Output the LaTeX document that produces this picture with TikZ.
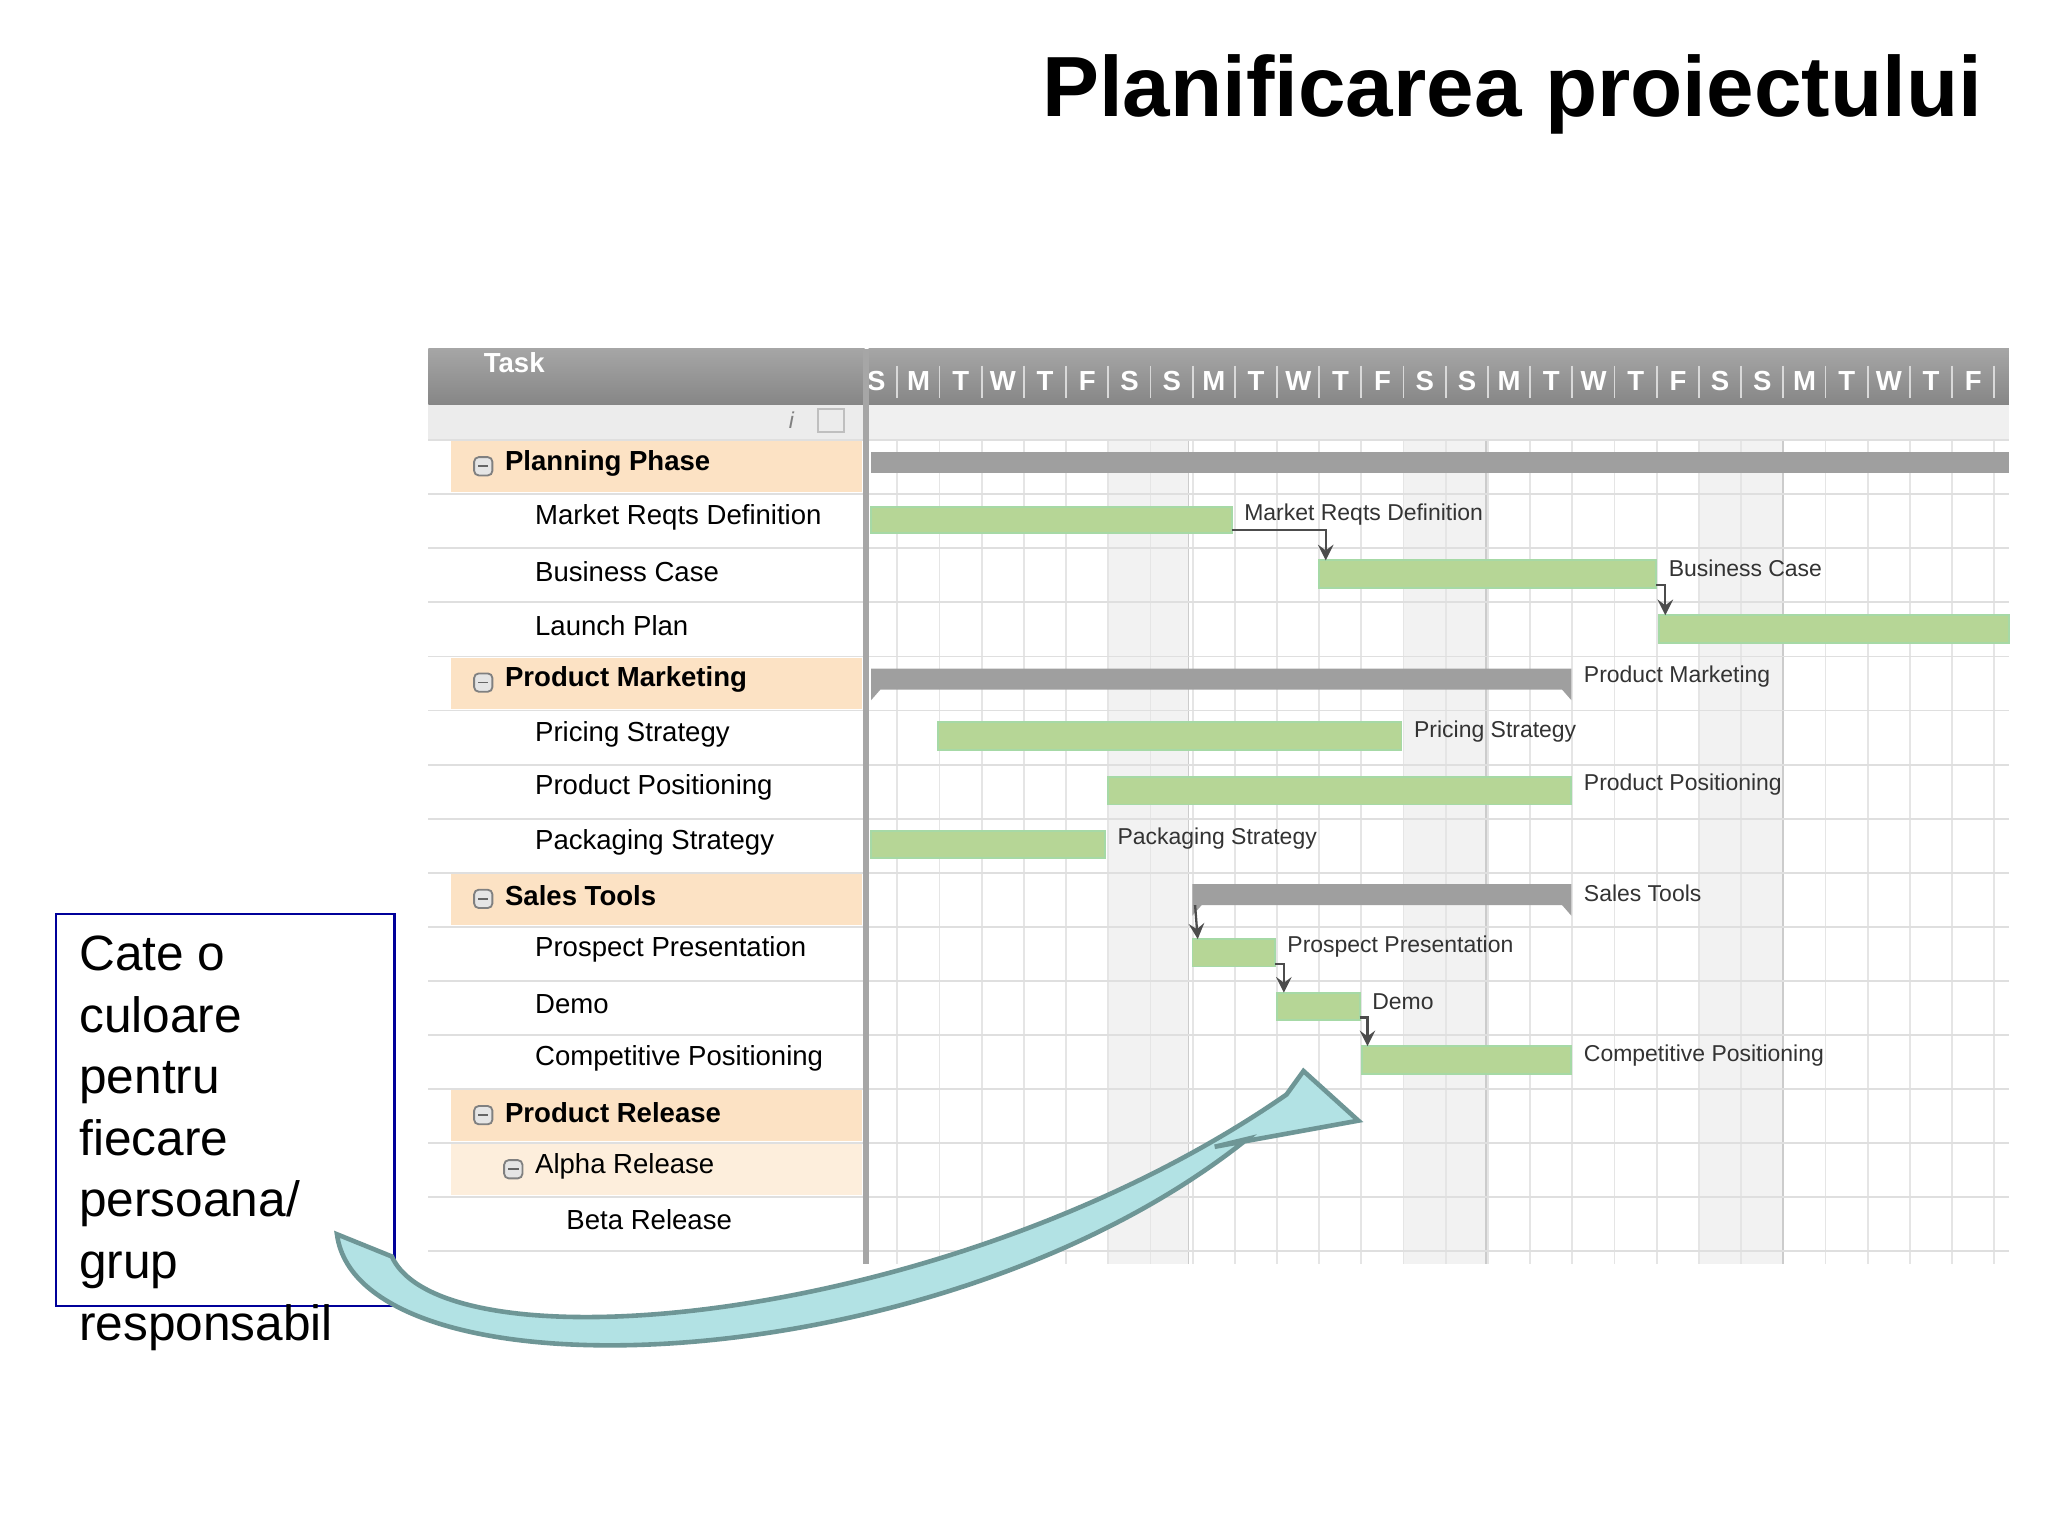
\documentclass[tikz,border=0pt]{standalone}
\usepackage{fontspec}
\setmainfont{Liberation Sans}
\begin{document}
\begin{tikzpicture}[x=0.01cm,y=-0.01cm,
  lbl/.style={anchor=west,font=\fontsize{6}{7}\selectfont,inner sep=0},
  blbl/.style={lbl,font=\fontsize{6}{7}\selectfont\bfseries},
  blab/.style={anchor=west,font=\fontsize{5}{6}\selectfont,inner sep=0,text=black!80},
  gbar/.style={draw=green!40!gray!50},
  conn/.style={draw=black!70,line width=0.5pt,-stealth}]
\definecolor{grn}{RGB}{182,214,150}
\definecolor{org}{RGB}{252,226,196}
\definecolor{arrowfill}{RGB}{178,226,228}
\definecolor{arrowedge}{RGB}{110,150,150}
\useasboundingbox (0,0) rectangle (1568,1176);
\fill[white] (0,0) rectangle (1568,1176);
\node[anchor=east,font=\fontsize{18.6}{22}\selectfont\bfseries] (title) at (1530,72) {Planificarea proiectului};
% left panel
\shade[top color=gray!70,bottom color=gray!95] (328,267) rectangle (662,310);
\node[anchor=west,text=white,font=\fontsize{6}{7}\selectfont\bfseries] (taskh) at (358,278) {Task};
\fill[gray!15] (328,310) rectangle (662,337);
\draw[gray!50] (626,313) rectangle (646,331);
\node[font=\fontsize{5}{6}\selectfont\itshape,text=gray] (ii) at (606,322) {i};
% right header
\shade[top color=gray!70,bottom color=gray!95] (665,267) rectangle (1538,310);
\fill[gray!12] (665,310) rectangle (1538,337);
\foreach \d [count=\i from 0] in {S,M,T,W,T,F,S,S,M,T,W,T,F,S,S,M,T,W,T,F,S,S,M,T,W,T,F}{
  \node[text=white,font=\fontsize{6}{7}\selectfont\bfseries] (d\i) at (671+32.3*\i,292) {\d};
  \draw[white!70!gray] (687+32.3*\i,280) -- (687+32.3*\i,305);
}
% weekend shading
\fill[gray!10] (848,337) rectangle (910,968);
\fill[gray!10] (1075,337) rectangle (1138,968);
\fill[gray!10] (1300,337) rectangle (1365,968);
% grid
\foreach \i in {0,...,26} \draw[gray!20] (687+32.3*\i,337) -- (687+32.3*\i,968);
\foreach \x in {910,1138,1365} \draw[gray!40] (\x,337) -- (\x,968);
\foreach \r in {0,...,15} {
  \draw[gray!25] (328,337+41.4*\r) -- (1538,337+41.4*\r);
}
\draw[gray!70,line width=1.5pt] (663,267) -- (663,968);
% orange rows
\foreach \r in {0,4,8,12} \fill[org] (345,338+41.4*\r) rectangle (660,377+41.4*\r);
\fill[org!60] (345,338+41.4*13) rectangle (660,377+41.4*13);
% minus icons
\foreach \r/\x in {0/370,4/370,8/370,12/370,13/393}{
  \draw[gray,fill=gray!20,rounded corners=1pt] (\x-7,357+41.4*\r-7) rectangle (\x+7,357+41.4*\r+7);
  \draw[gray!80!black] (\x-4,357+41.4*\r) -- (\x+4,357+41.4*\r);
}
\node[blbl] (t0) at (386,355) {Planning Phase};
\node[lbl] (t1) at (409,396) {Market Reqts Definition};
\node[lbl] (t2) at (409,438) {Business Case};
\node[lbl] (t3) at (409,479) {Launch Plan};
\node[blbl] (t4) at (386,520) {Product Marketing};
\node[lbl] (t5) at (409,562) {Pricing Strategy};
\node[lbl] (t6) at (409,603) {Product Positioning};
\node[lbl] (t7) at (409,645) {Packaging Strategy};
\node[blbl] (t8) at (386,686) {Sales Tools};
\node[lbl] (t9) at (409,727) {Prospect Presentation};
\node[lbl] (t10) at (409,769) {Demo};
\node[lbl] (t11) at (409,810) {Competitive Positioning};
\node[blbl] (t12) at (386,852) {Product Release};
\node[lbl] (t13) at (409,893) {Alpha Release};
\node[lbl] (t14) at (433,934) {Beta Release};
% bars
\fill[gray!75] (667,346) rectangle (1538,362);
\draw[gbar,fill=grn] (667,388) rectangle (943,408); \node[blab] (l1) at (952,394) {Market Reqts Definition};
\draw[gbar,fill=grn] (1010,429) rectangle (1268,450); \node[blab] (l2) at (1277,435) {Business Case};
\draw[gbar,fill=grn] (1270,471) rectangle (1538,492);
\fill[gray!75] (667,512) -- (1203,512) -- (1203,536) -- (1196,528) -- (674,528) -- (667,536) -- cycle; \node[blab] (l4) at (1212,518) {Product Marketing};
\draw[gbar,fill=grn] (718,553) rectangle (1073,574); \node[blab] (l5) at (1082,560) {Pricing Strategy};
\draw[gbar,fill=grn] (848,595) rectangle (1203,616); \node[blab] (l6) at (1212,601) {Product Positioning};
\draw[gbar,fill=grn] (667,636) rectangle (846,657); \node[blab] (l7) at (855,642) {Packaging Strategy};
\fill[gray!75] (913,677) -- (1203,677) -- (1203,701) -- (1196,693) -- (920,693) -- (913,701) -- cycle; \node[blab] (l8) at (1212,684) {Sales Tools};
\draw[gbar,fill=grn] (913,719) rectangle (976,740); \node[blab] (l9) at (985,725) {Prospect Presentation};
\draw[gbar,fill=grn] (978,760) rectangle (1041,781); \node[blab] (l10) at (1050,767) {Demo};
\draw[gbar,fill=grn] (1043,801) rectangle (1203,822); \node[blab] (l11) at (1212,808) {Competitive Positioning};
% connectors
\coordinate (c1a) at (943,406); \coordinate (c1b) at (1015,429);
\draw[conn] (c1a) -- (1015,406) -- (c1b);
\coordinate (c2a) at (1268,448); \coordinate (c2b) at (1275,471);
\draw[conn] (c2a) -- (1275,448) -- (c2b);
\coordinate (c8a) at (915,693); \coordinate (c8b) at (917,719);
\draw[conn] (c8a) -- (c8b);
\coordinate (c9a) at (976,738); \coordinate (c9b) at (983,760);
\draw[conn] (c9a) -- (983,738) -- (c9b);
\coordinate (c10a) at (1041,779); \coordinate (c10b) at (1047,801);
\draw[conn] (c10a) -- (1047,779) -- (c10b);
% note box
\draw[blue!60!black,line width=0.5pt] (43,700) rectangle (302,1000);
\node[anchor=north west,align=left,inner sep=0,font=\fontsize{10.8}{13.4}\selectfont] (note) at (60,716) {Cate o\\culoare\\pentru\\fiecare\\persoana/\\grup\\responsabil};
% curved arrow
\filldraw[fill=arrowfill,draw=arrowedge,line width=1pt]
  (258,945) .. controls (275,1075) and (720,1060) .. (955,872)
  -- (930,878) -- (1040,858) -- (998,820) -- (985,838)
  .. controls (730,1015) and (340,1050) .. (300,962) -- cycle;
\end{tikzpicture}
\end{document}
